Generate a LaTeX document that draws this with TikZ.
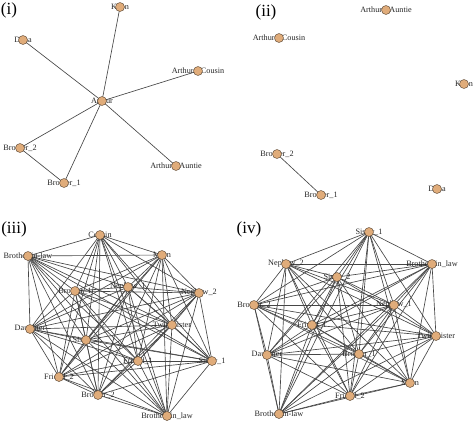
\documentclass[tikz,border=0pt]{standalone}
\usepackage{fontspec}
\setmainfont{Liberation Serif}
\pgfdeclarelayer{bg}
\pgfsetlayers{bg,main}
\definecolor{dotfill}{RGB}{224,172,122}
\definecolor{dotline}{RGB}{95,75,55}
\definecolor{edgec}{RGB}{70,70,70}
\tikzset{
  lbl/.style={font=\fontsize{8.2}{8.2}\selectfont, inner sep=0pt, text=black!85},
  dot/.style={circle, minimum size=9pt, inner sep=0pt, fill=dotfill, draw=dotline, line width=0.45pt},
  edge/.style={draw=edgec, line width=0.65pt},
  panel/.style={font=\fontsize{17}{17}\selectfont, inner sep=0pt}
}
\begin{document}
\begin{tikzpicture}[x=1pt,y=-1pt]
\useasboundingbox (0,0) rectangle (474,424);
% panel labels
\node[panel] (pi) at (9,10) {(i)};
\node[panel] (pii) at (266,12) {(ii)};
\node[panel] (piii) at (14,229) {(iii)};
\node[panel] (piv) at (249,229) {(iv)};

% ---------- panel (i)
\node[lbl] (ar1) at (102,101) {Arthur};
\node[lbl] (ke1) at (120,7) {Keon};
\node[lbl] (da1) at (23,40) {Dana};
\node[lbl] (ac1) at (198,71) {Arthurs\_Cousin};
\node[lbl] (b21) at (20,148) {Brother\_2};
\node[lbl] (b11) at (64,183) {Brother\_1};
\node[lbl] (aa1) at (176,166) {Arthurs\_Auntie};

% ---------- panel (ii)
\node[lbl] (aa2) at (386,10) {Arthurs\_Auntie};
\node[lbl] (ac2) at (279,38) {Arthurs\_Cousin};
\node[lbl] (ke2) at (464,84) {Keon};
\node[lbl] (b22) at (277,154) {Brother\_2};
\node[lbl] (b12) at (321,195) {Brother\_1};
\node[lbl] (da2) at (437,189) {Dana};

% ---------- panel (iii)
\node[lbl] (c3) at (100,235) {Cousin};
\node[lbl] (bl3) at (28,256) {Brother-in-law};
\node[lbl] (m3) at (162,255) {Mom};
\node[lbl] (b13) at (75,291) {Brother\_1};
\node[lbl] (n13) at (128,287) {Nephew\_1};
\node[lbl] (n23) at (199,293) {Nephew\_2};
\node[lbl] (d3) at (30,329) {Daughter};
\node[lbl] (t3) at (172,325) {Twin\_sister};
\node[lbl] (s23) at (86,340) {Sister\_2};
\node[lbl] (f13) at (138,361) {Friend\_1};
\node[lbl] (s13) at (212,361) {Sister\_1};
\node[lbl] (f23) at (59,377) {Friend\_2};
\node[lbl] (b23) at (98,395) {Brother\_2};
\node[lbl] (bi3) at (167,416) {Brother\_in\_law};

% ---------- panel (iv)
\node[lbl] (s14) at (369,232) {Sister\_1};
\node[lbl] (n24) at (286,264) {Nephew\_2};
\node[lbl] (bi4) at (432,264) {Brother\_in\_law};
\node[lbl] (s24) at (337,277) {Sister\_2};
\node[lbl] (b24) at (254,305) {Brother\_2};
\node[lbl] (n14) at (394,305) {Nephew\_1};
\node[lbl] (f14) at (312,325) {Friend\_1};
\node[lbl] (t4) at (436,336) {Twin\_sister};
\node[lbl] (d4) at (267,355) {Daughter};
\node[lbl] (b14) at (359,354) {Brother\_1};
\node[lbl] (m4) at (410,383) {Mom};
\node[lbl] (f24) at (350,396) {Friend\_2};
\node[lbl] (bl4) at (279,414) {Brother-in-law};

\def\listiii{c3,bl3,m3,b13,n13,n23,d3,t3,s23,f13,s13,f23,b23,bi3}
\def\listiv{s14,n24,bi4,s24,b24,n14,f14,t4,d4,b14,m4,f24,bl4}

\begin{pgfonlayer}{bg}
  \foreach \t in {ke1,da1,ac1,b21,b11,aa1}
    \draw[edge] (ar1.center) -- (\t.center);
  \draw[edge] (b21.center) -- (b11.center);
  \draw[edge] (b22.center) -- (b12.center);
  \foreach \a [count=\i] in \listiii {
    \foreach \b [count=\j] in \listiii {
      \ifnum\j>\i \draw[edge] (\a.center) -- (\b.center); \fi
    }
  }
  \foreach \a [count=\i] in \listiv {
    \foreach \b [count=\j] in \listiv {
      \ifnum\j>\i \draw[edge] (\a.center) -- (\b.center); \fi
    }
  }
\end{pgfonlayer}

% dots on top of the labels
\foreach \n in {ar1,ke1,da1,ac1,b21,b11,aa1,aa2,ac2,ke2,b22,b12,da2}
  \node[dot] at (\n.center) {};
\foreach \n in \listiii \node[dot] at (\n.center) {};
\foreach \n in \listiv \node[dot] at (\n.center) {};
\end{tikzpicture}
\end{document}
